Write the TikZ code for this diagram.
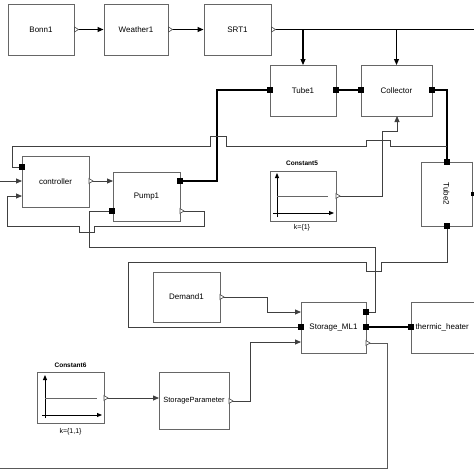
\documentclass[tikz,border=0pt]{standalone}
\usepackage{fontspec}
\setmainfont{Liberation Sans}
\usetikzlibrary{arrows.meta}
\begin{document}
\begin{tikzpicture}[x=1pt,y=-1pt,
  blk/.style={draw=black!60, line width=1pt, fill=white, inner sep=0pt, font=\fontsize{8}{9}\selectfont},
  sq/.style={fill=black, minimum size=6pt, inner sep=0pt, draw=none},
  heavy/.style={draw=black, line width=1.1pt},
  thin/.style={draw=black!75, line width=0.8pt},
  inarr/.style={-{Triangle[length=6pt,width=5pt]}},
  outmk/.style={draw=black!70, fill=white, line width=0.6pt},
  clab/.style={font=\fontsize{6.5}{7}\selectfont\bfseries, inner sep=0pt},
  klab/.style={font=\fontsize{7}{8}\selectfont, inner sep=0pt},
  axis/.style={draw=black, line width=0.9pt, -{Triangle[length=5pt,width=4pt]}},
  kline/.style={draw=black!60, line width=0.8pt},
  pics/outm/.style={code={\draw[outmk] (0,-2.5) -- (4,0) -- (0,2.5) -- cycle;}},
]
\useasboundingbox (0,0) rectangle (474,474);
\fill[white] (0,0) rectangle (474,474);

% blocks
\node[blk, minimum width=66pt, minimum height=51pt] (bonn) at (41,29.5) {Bonn1};
\node[blk, minimum width=64pt, minimum height=51pt] (weather) at (136,29.5) {Weather1};
\node[blk, minimum width=67pt, minimum height=51pt] (srt) at (237.5,29.5) {SRT1};
\node[blk, minimum width=66pt, minimum height=51pt] (tube1) at (303,90.5) {Tube1};
\node[blk, minimum width=71pt, minimum height=51pt] (coll) at (396.5,90.5) {Collector};
\node[blk, minimum width=51pt, minimum height=64pt] (tube2) at (446.5,194) {};
\draw[black!60, line width=1.8pt] (tube2.north east) -- (tube2.south east);
\node[rotate=-90, font=\fontsize{8}{9}\selectfont, inner sep=0pt] (tube2lab) at (tube2.center) {Tube2};
\node[blk, minimum width=67pt, minimum height=51pt] (ctrl) at (55.5,181.5) {controller};
\node[blk, minimum width=67pt, minimum height=49pt] (pump) at (146.5,196.5) {Pump1};
\node[blk, minimum width=66pt, minimum height=50pt] (c5) at (303,196) {};
\node[blk, minimum width=67pt, minimum height=50pt] (demand) at (186.5,297) {Demand1};
\node[blk, minimum width=65pt, minimum height=51pt] (stor) at (333.5,327.5) {Storage\_ML1};
\node[blk, minimum width=75pt, minimum height=51pt, text width=66pt, align=left] (heater) at (448.5,327.5) {thermic\_heater};
\node[blk, minimum width=67pt, minimum height=51pt] (c6) at (70.5,397.5) {};
\node[blk, minimum width=70pt, minimum height=57pt, font=\fontsize{7.5}{9}\selectfont] (sp) at (194,400.5) {StorageParameter};

% constant labels
\node[clab] (c5name) at (302,163) {Constant5};
\node[klab] (c5k) at (302,228) {k=\{1\}};
\node[clab] (c6name) at (70.5,365) {Constant6};
\node[klab] (c6k) at (70.5,432) {k=\{1,1\}};

% constant icons
\draw[axis] (277,217) -- (277,173);
\draw[axis] (273,213) -- (334,213);
\draw[kline] (277,196) -- (328,196);
\draw[axis] (45,418) -- (45,375);
\draw[axis] (42,415) -- (102,415);
\draw[kline] (45,398) -- (97,398);

% port coordinates
\coordinate (t1T) at (303,65);
\coordinate (cT) at (396.5,65);
\coordinate (cB) at (397,116);
\coordinate (ctI1) at (22,181);
\coordinate (ctI2) at (22,196);
\coordinate (ctO) at (89,181);
\coordinate (pI) at (113,181);
\coordinate (pO) at (180,211);
\coordinate (c5O) at (336,196);
\coordinate (dO) at (220,297);
\coordinate (sL1) at (301,312);
\coordinate (sL3) at (301,342);
\coordinate (sO) at (366,343);
\coordinate (c6O) at (104,398);
\coordinate (spI) at (159,398);
\coordinate (spO) at (229,401);
\coordinate (srtend) at (474,29.5);
\coordinate (lin) at (0,181);
\coordinate (botend) at (0,468);
\coordinate (j7) at (447,146);

% connectors
\draw[heavy, inarr] (bonn.east) -- (weather.west);
\draw[heavy, inarr] (weather.east) -- (srt.west);
\draw[heavy] (srt.east) -- (srtend);
\draw[heavy, inarr] (t1T |- srt.east) -- (t1T);
\draw[heavy, inarr] (cT |- srt.east) -- (cT);
\draw[heavy] (336,90) -- (361,90);
\draw[heavy] (432,90) -| (447,162);
\draw[heavy] (180,181) -- (217,181) -- (217,90) -- (270,90);
\draw[thin] (22,167) -- (12,167) -- (12,146) -- (210,146) -- (210,136) -- (226,136) -- (226,146)
  -- (366,146) -- (366,140) -- (390,140) -- (390,146) -- (j7);
\draw[thin, inarr] (lin) -- (ctI1);
\draw[thin, inarr] (ctO) -- (pI);
\draw[thin, inarr] (pO) -- (204,211) -- (204,226) -- (94,226) -- (94,232) -- (79,232) -- (79,226)
  -- (7,226) -- (7,196) -- (ctI2);
\draw[thin] (112,211) -- (89,211) -- (89,247) -- (375,247) -- (375,312) -- (366,312);
\draw[thin, inarr] (c5O) -- (382,196) -- (382,131) -- (397,131) -- (cB);
\draw[thin] (447,226) -- (447,262) -- (381,262) -- (381,271) -- (366,271) -- (366,262)
  -- (128,262) -- (128,327) -- (301,327);
\draw[thin, inarr] (dO) -- (267,297) -- (267,312) -- (sL1);
\draw[heavy] (366,327) -- (411,327);
\draw[thin, black!65] (sO) -- (387,343) -- (387,468) -- (botend);
\draw[thin, inarr] (c6O) -- (spI);
\draw[thin, inarr] (spO) -- (250,401) -- (250,342) -- (sL3);

% square ports
\node[sq] (t1L) at (270,90) {};
\node[sq] (t1R) at (336,90) {};
\node[sq] (cL) at (361,90) {};
\node[sq] (cR) at (432,90) {};
\node[sq] (t2T) at (447,162) {};
\node[sq] (t2B) at (447,226) {};
\node[sq, minimum size=4pt] (t2R) at (473,194) {};
\node[sq] (ctT) at (22,167) {};
\node[sq] (pR) at (180,181) {};
\node[sq] (pL) at (112,211) {};
\node[sq] (sL2) at (301,327) {};
\node[sq] (sR1) at (366,312) {};
\node[sq] (sR2) at (366,327) {};
\node[sq] (hL) at (411,327) {};

% output markers
\pic at (bonn.east) {outm};
\pic at (weather.east) {outm};
\pic at (srt.east) {outm};
\pic at (ctO) {outm};
\pic at (pO) {outm};
\pic at (c5O) {outm};
\pic at (dO) {outm};
\pic at (sO) {outm};
\pic at (c6O) {outm};
\pic at (spO) {outm};
\end{tikzpicture}
\end{document}
